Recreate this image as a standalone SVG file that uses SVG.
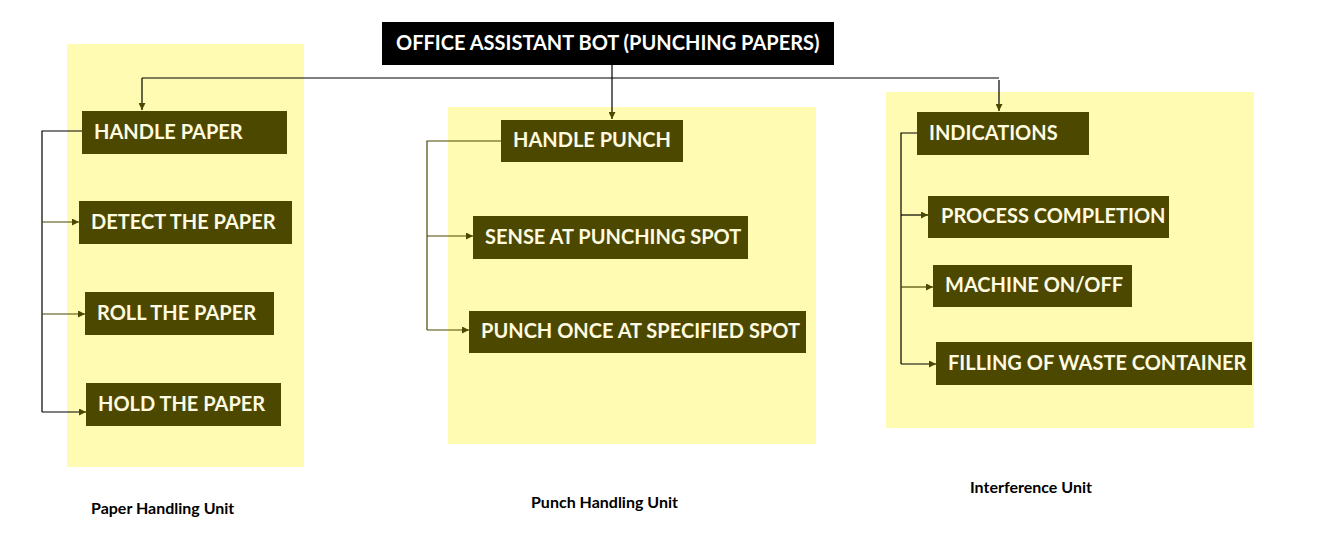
<svg xmlns="http://www.w3.org/2000/svg" width="1337" height="538" viewBox="0 0 1337 538">
<defs>
<style>
.panel{fill:#fffbb3}
.box{fill:#4d4800}
.t{font-family:Lato,"Open Sans",sans-serif;font-weight:bold;font-size:20px;fill:#fffbe0}
.cap{font-family:Lato,"Open Sans",sans-serif;font-weight:bold;font-size:16px;fill:#000}
.c{fill:none;stroke:#000;stroke-width:1.2}
.g{fill:none;stroke:#4d4800;stroke-width:1.2}
</style>
<marker id="a" viewBox="0 0 10 10" refX="10" refY="5" markerWidth="7" markerHeight="7" orient="auto" markerUnits="userSpaceOnUse"><path d="M0,0L10,5L0,10z" fill="#4d4800"/></marker>
</defs>
<rect width="1337" height="538" fill="#fff"/>
<rect class="panel" x="67" y="44" width="237" height="423"/>
<rect class="panel" x="448" y="107" width="368" height="337"/>
<rect class="panel" x="886" y="92" width="368" height="336"/>
<g id="connectors">
<path class="c" d="M612,65V79M142,78H999"/>
<path class="c" d="M142,78V110" marker-end="url(#a)"/>
<path class="c" d="M612,79V119" marker-end="url(#a)"/>
<path class="c" d="M999,80V111" marker-end="url(#a)"/>
<path class="c" d="M82,131H42V412"/>
<path class="g" d="M42,222H79" marker-end="url(#a)"/>
<path class="g" d="M42,314H85" marker-end="url(#a)"/>
<path class="c" d="M42,412H86" marker-end="url(#a)"/>
<path class="g" d="M501,141H427V330"/>
<path class="g" d="M427,236H473" marker-end="url(#a)"/>
<path class="g" d="M427,330H469" marker-end="url(#a)"/>
<path class="c" d="M917,133H901V364"/>
<path class="c" d="M901,215H928" marker-end="url(#a)"/>
<path class="g" d="M901,287H933" marker-end="url(#a)"/>
<path class="c" d="M901,364H936" marker-end="url(#a)"/>
</g>
<g id="title"><rect x="382" y="22" width="452" height="43" fill="#000"/><text class="t" x="396" y="50" fill="#fff" style="fill:#fff">OFFICE ASSISTANT BOT (PUNCHING PAPERS)</text></g>
<g id="handle-paper"><rect class="box" x="82" y="111" width="205" height="43"/><text class="t" x="94" y="139">HANDLE PAPER</text></g>
<g id="detect-paper"><rect class="box" x="79" y="201" width="213" height="43"/><text class="t" x="91" y="229">DETECT THE PAPER</text></g>
<g id="roll-paper"><rect class="box" x="85" y="292" width="189" height="43"/><text class="t" x="97" y="320">ROLL THE PAPER</text></g>
<g id="hold-paper"><rect class="box" x="86" y="383" width="195" height="43"/><text class="t" x="98" y="411">HOLD THE PAPER</text></g>
<g id="handle-punch"><rect class="box" x="501" y="120" width="182" height="42"/><text class="t" x="513" y="147">HANDLE PUNCH</text></g>
<g id="sense"><rect class="box" x="473" y="216" width="275" height="43"/><text class="t" x="485" y="244">SENSE AT PUNCHING SPOT</text></g>
<g id="punch-once"><rect class="box" x="469" y="311" width="337" height="42"/><text class="t" x="481" y="338">PUNCH ONCE AT SPECIFIED SPOT</text></g>
<g id="indications"><rect class="box" x="917" y="112" width="172" height="43"/><text class="t" x="929" y="140">INDICATIONS</text></g>
<g id="process"><rect class="box" x="928" y="196" width="241" height="42"/><text class="t" x="941" y="223">PROCESS COMPLETION</text></g>
<g id="machine"><rect class="box" x="933" y="265" width="199" height="42"/><text class="t" x="945" y="292">MACHINE ON/OFF</text></g>
<g id="filling"><rect class="box" x="936" y="342" width="316" height="43"/><text class="t" x="948" y="370">FILLING OF WASTE CONTAINER</text></g>
<text class="cap" x="91" y="514">Paper Handling Unit</text>
<text class="cap" x="531" y="508">Punch Handling Unit</text>
<text class="cap" x="970" y="493">Interference Unit</text>
</svg>
